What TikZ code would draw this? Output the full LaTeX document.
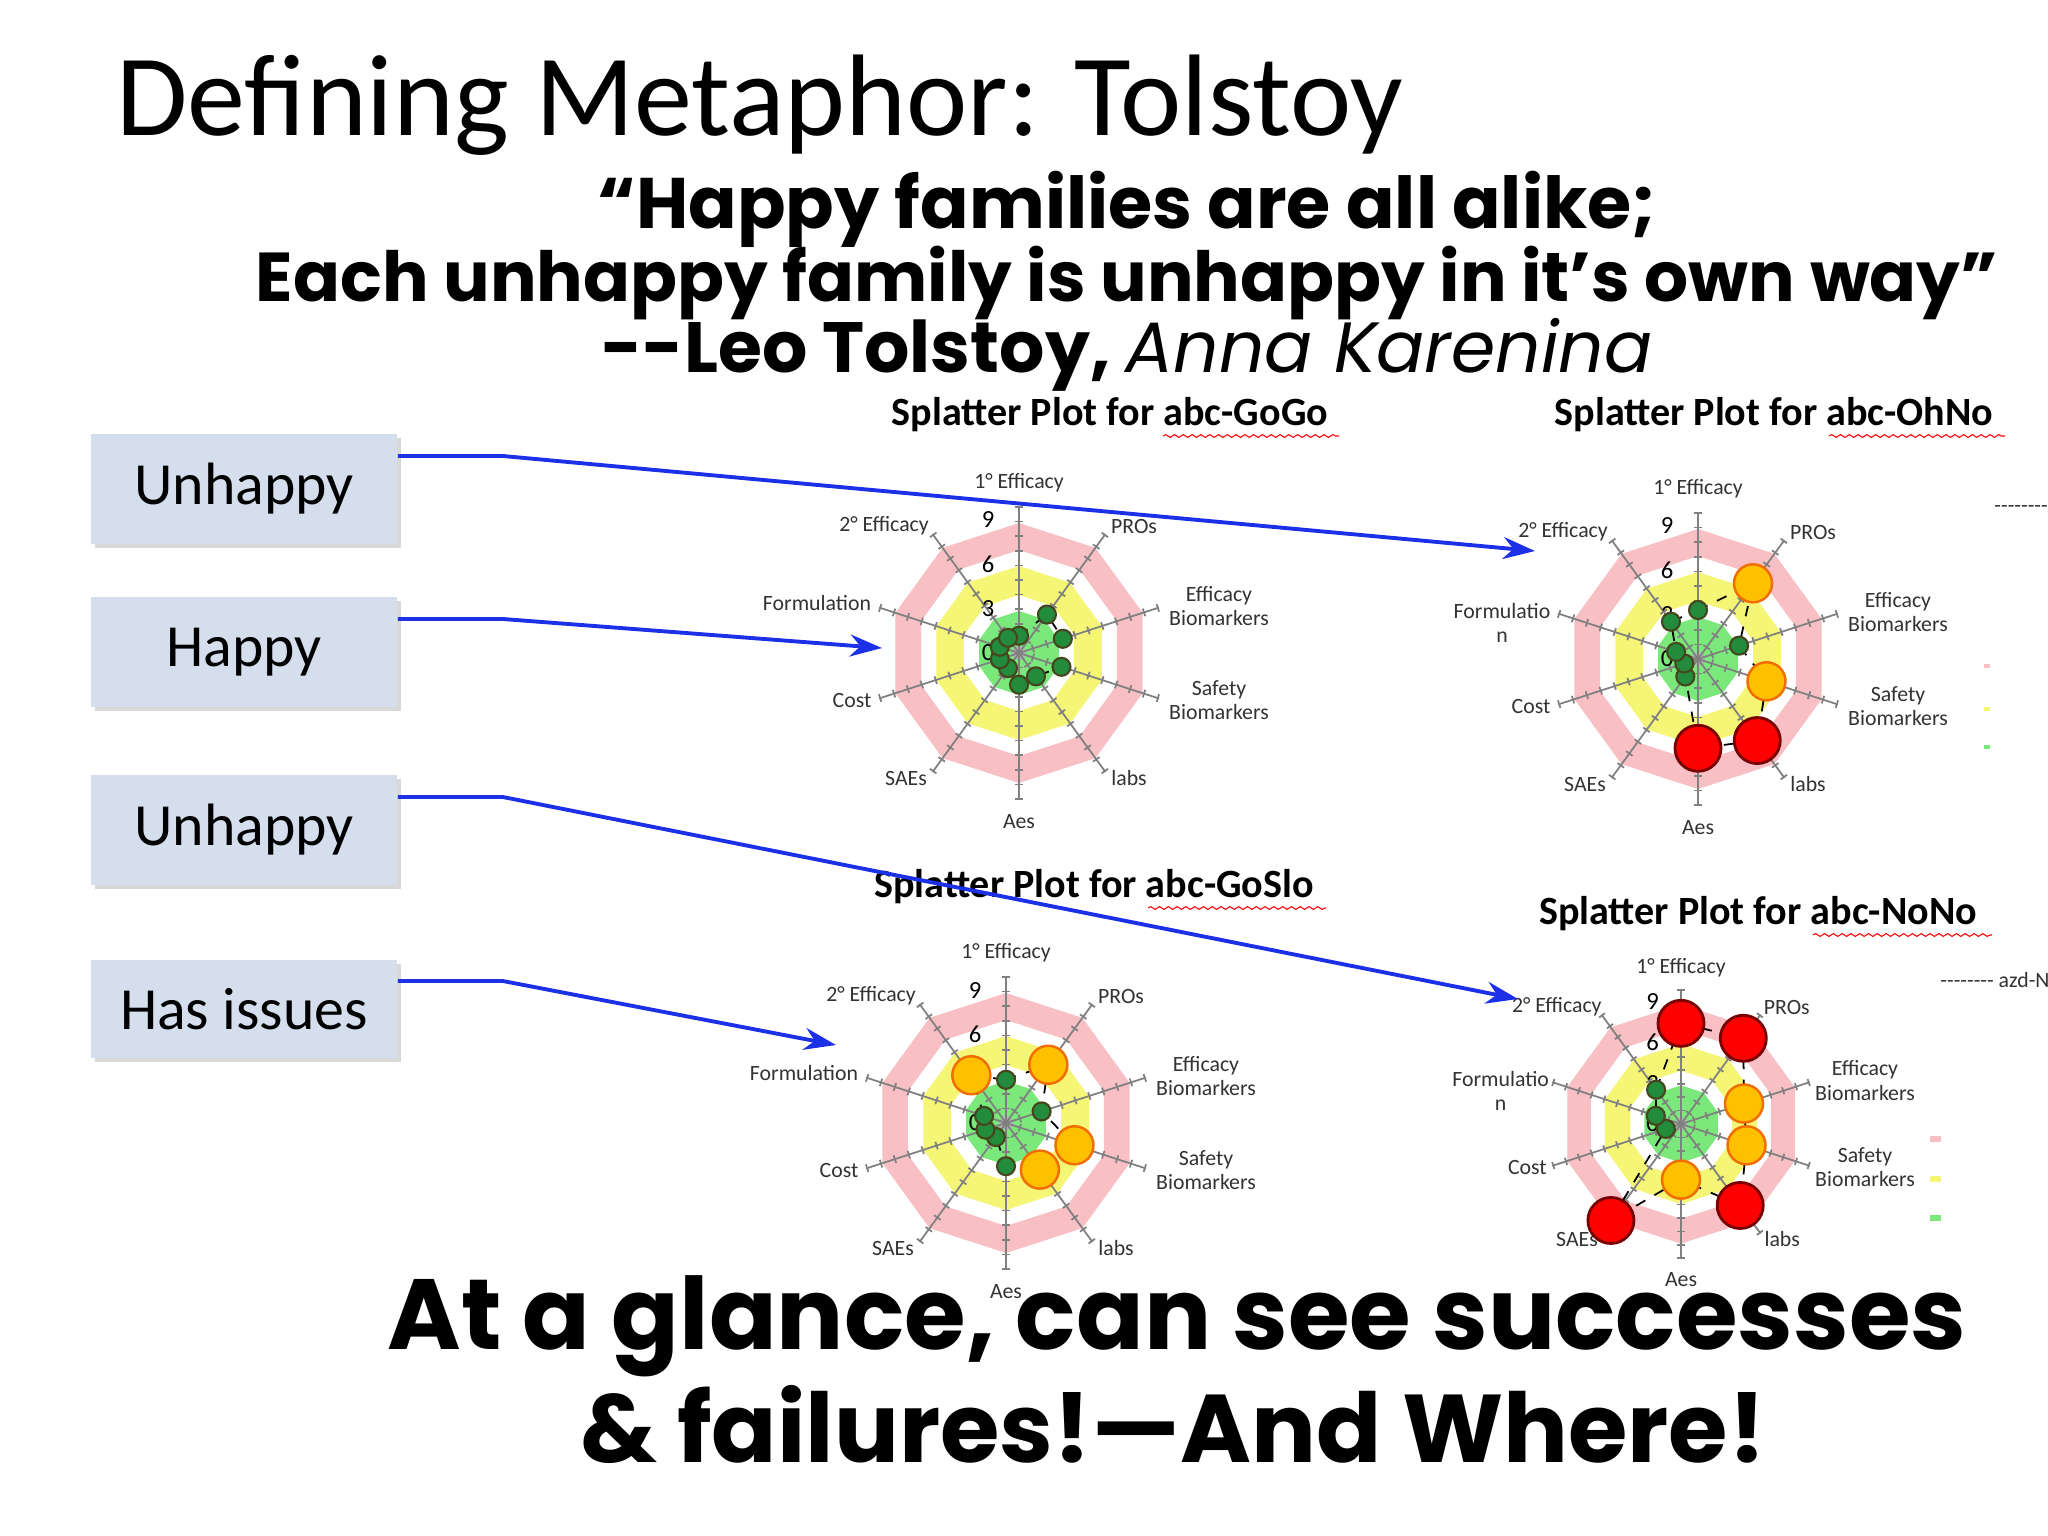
\documentclass[tikz,border=0pt]{standalone}
\usepackage{fontspec}
\setmainfont{Carlito}
\newfontfamily\hand{Poppins}
\usetikzlibrary{calc,arrows.meta,decorations.pathmorphing,shadows}
\definecolor{pinkb}{RGB}{248,192,196}
\definecolor{yellowb}{RGB}{246,246,118}
\definecolor{greenb}{RGB}{122,232,122}
\definecolor{axisc}{RGB}{128,128,128}
\definecolor{boxc}{RGB}{212,222,236}
\definecolor{arrc}{RGB}{28,48,232}
\definecolor{dgreen}{RGB}{34,140,60}
\definecolor{dgreenl}{RGB}{70,70,30}
\definecolor{orf}{RGB}{255,192,0}
\definecolor{ord}{RGB}{240,110,0}
\definecolor{redd}{RGB}{120,0,0}
\tikzset{
 lbl/.style={font=\fontsize{6.2}{7}\selectfont, align=center, text=black!80},
 tnum/.style={font=\fontsize{7}{8}\selectfont},
 ptitle/.style={font=\fontsize{11.4}{13}\bfseries\selectfont},
 famb/.style={fill=boxc, minimum width=3.06cm, minimum height=1.1cm, font=\fontsize{17}{20}\selectfont, drop shadow={opacity=0.3,shadow xshift=0.04cm,shadow yshift=-0.04cm}},
 conn/.style={draw=arrc, line width=1.1pt, -{Stealth[length=0.32cm,width=0.22cm]}},
 dotg/.style={circle, fill=dgreen, draw=dgreenl, line width=0.6pt, minimum size=0.18cm, inner sep=0},
 doto/.style={circle, fill=orf, draw=ord, line width=0.7pt, minimum size=0.38cm, inner sep=0},
 dotr/.style={circle, fill=red, draw=redd, line width=0.8pt, minimum size=0.46cm, inner sep=0},
 wavy/.style={draw=red, line width=0.3pt, decorate, decoration={snake, amplitude=0.4pt, segment length=2.5pt}},
}
\newcommand\decag[1]{(90:#1) \foreach \k in {1,...,9}{ -- (90-36*\k:#1)} -- cycle}
\newcommand\radar[5]{%
 \begin{scope}[shift={(#1,#2)},x=0.01cm,y=0.01cm,scale=#5]
  \fill[pinkb,even odd rule] \decag{130} \decag{103};
  \fill[yellowb,even odd rule] \decag{87} \decag{58};
  \fill[greenb] \decag{42};
  \fill[axisc!60] (0,0) circle (7);
  \foreach \k in {0,...,9}{
    \draw[axisc, line width=0.5pt] (0,0) -- (90-36*\k:147);
    \foreach \t in {1,...,10}{
      \draw[axisc, line width=0.5pt] ($(90-36*\k:\t*14.6)+(-36*\k:4)$) -- ($(90-36*\k:\t*14.6)+(180-36*\k:4)$);
    }
  }
  \node[tnum] at (-31,133) {9};
  \node[tnum] at (-31,89) {6};
  \node[tnum] at (-31,44) {3};
  \node[tnum] at (-31,0) {0};
  \node[lbl] at (0,170) {1° Efficacy};
  \node[lbl] at (-135,127) {2° Efficacy};
  \node[lbl] at (115,127) {PROs};
  \node[lbl] at (200,47) {Efficacy\\Biomarkers};
  \node[lbl] at (200,-47) {Safety\\Biomarkers};
  \node[lbl] at (110,-125) {labs};
  \node[lbl] at (0,-169) {Aes};
  \node[lbl] at (-113,-125) {SAEs};
  \node[lbl] at (-167,-47) {Cost};
  \node[lbl] at #4 {#3};
 \end{scope}}
\newcommand\splat[5]{%
 \begin{scope}[shift={(#1,#2)},x=0.01cm,y=0.01cm,scale=#5]
  \foreach \k/\v/\c in {#3}{ \coordinate (#4\k) at (90-36*\k:\v*14.4); }
  \draw[dashed, line width=0.5pt] (#40) \foreach \k in {1,...,9}{ -- (#4\k)} -- cycle;
  \foreach \k/\v/\c in {#3}{ \node[dot\c] (#4d\k) at (#4\k) {}; }
 \end{scope}}
\begin{document}
\begin{tikzpicture}[x=0.01cm,y=-0.01cm]
\useasboundingbox (0,0) rectangle (2048,1536);
\fill[white] (0,0) rectangle (2048,1536);
\node[anchor=west, font=\fontsize{33}{36}\selectfont] (title) at (104,105) {Defining Metaphor: Tolstoy};
\node (q1) at (1127,209) {\resizebox{10.58cm}{!}{\hand\bfseries “Happy families are all alike;}};
\node (q2) at (1127,283) {\resizebox{17.41cm}{!}{\hand\bfseries Each unhappy family is unhappy in it’s own way”}};
\node (q3) at (1127,355) {\resizebox{10.5cm}{!}{\hand\bfseries --Leo Tolstoy, \mdseries\itshape Anna Karenina}};
% plots
\radar{1019}{653}{Formulation}{(-202,50)}{1}
\radar{1698}{659}{Formulatio\\n}{(-196,36)}{1}
\radar{1006}{1123}{Formulation}{(-202,50)}{1}
\radar{1681}{1124}{Formulatio\\n}{(-196,36)}{0.92}
\splat{1019}{653}{0/1.2/g,1/3.3/g,2/3.2/g,3/3.1/g,4/2/g,5/2.2/g,6/1.3/g,7/1.4/g,8/1.4/g,9/1.3/g}{a}{1}
\splat{1698}{659}{0/3.4/g,1/6.5/o,2/3/g,3/5/o,4/7/r,5/6.2/r,6/1.5/g,7/1/g,8/1.6/g,9/3.2/g}{b}{1}
\splat{1006}{1123}{0/3/g,1/5/o,2/2.6/g,3/5/o,4/4/o,5/3/g,6/1.2/g,7/1.5/g,8/1.6/g,9/4.1/o}{c}{1}
\splat{1681}{1124}{0/7.6/r,1/8/r,2/5/o,3/5.2/o,4/7.6/r,5/4.2/o,6/9/r,7/1.2/g,8/2/g,9/3.2/g}{d}{0.92}
% plot titles
\node[ptitle] (t1) at (1110,415) {Splatter Plot for abc-GoGo};
\node[ptitle] (t2) at (1774,415) {Splatter Plot for abc-OhNo};
\node[ptitle] (t3) at (1094,887) {Splatter Plot for abc-GoSlo};
\node[ptitle] (t4) at (1758,914) {Splatter Plot for abc-NoNo};
\draw[wavy] (1163,436) -- (1339,436);
\draw[wavy] (1829,436) -- (2005,436);
\draw[wavy] (1148,908) -- (1326,908);
\draw[wavy] (1813,935) -- (1992,935);
% legends
\node[anchor=west, lbl] (lg1) at (1982,509) {-{}-{}-{}-{}-{}-{}-{}-};
\node[anchor=west, lbl] (lg2) at (1928,980) {-{}-{}-{}-{}-{}-{}-{}- azd-N};
\draw[pinkb, line width=1.2pt] (1984,666) -- (1990,666);
\draw[yellowb, line width=1.2pt] (1984,709) -- (1990,709);
\draw[greenb, line width=1.2pt] (1984,747) -- (1990,747);
\draw[pinkb, line width=1.5pt] (1930,1139) -- (1941,1139);
\draw[yellowb, line width=1.5pt] (1930,1179) -- (1941,1179);
\draw[greenb, line width=1.5pt] (1930,1218) -- (1941,1218);
% family boxes
\node[famb] (b1) at (244,489) {Unhappy};
\node[famb] (b2) at (244,652) {Happy};
\node[famb] (b3) at (244,830) {Unhappy};
\node[famb, minimum height=0.98cm] (b4) at (244,1009) {Has issues};
\coordinate (e1) at (1535,551);
\coordinate (e2) at (882,648);
\coordinate (e3) at (1518,999);
\coordinate (e4) at (836,1045);
\draw[conn] ([yshift=0.33cm]b1.east) -- ++(105,0) -- (e1);
\draw[conn] ([yshift=0.33cm]b2.east) -- ++(105,0) -- (e2);
\draw[conn] ([yshift=0.33cm]b3.east) -- ++(105,0) -- (e3);
\draw[conn] ([yshift=0.28cm]b4.east) -- ++(105,0) -- (e4);
% bottom
\node (bt1) at (1177,1326) {\resizebox{15.78cm}{!}{\hand\bfseries At a glance, can see successes}};
\node (bt2) at (1173,1424) {\resizebox{11.85cm}{!}{\hand\bfseries \& failures!—And Where!}};
\end{tikzpicture}
\end{document}
